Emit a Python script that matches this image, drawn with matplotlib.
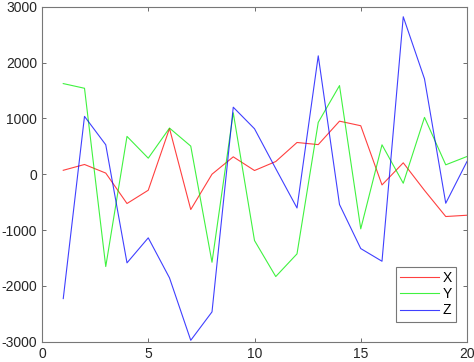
import matplotlib
matplotlib.use("Agg")
import matplotlib.pyplot as plt

plt.rcParams['font.family'] = ['Liberation Sans', 'DejaVu Sans']
plt.rcParams['axes.unicode_minus'] = False

x = list(range(1, 21))
X = [70, 174, 20, -525, -287, 820, -633, 0, 311, 66, 227, 568, 530, 950, 868, -192, 204, -290, -758, -735]
Y = [1623, 1539, -1654, 677, 287, 826, 503, -1577, 1100, -1188, -1833, -1427, 928, 1587, -979, 527, -162, 1018, 168, 317]
Z = [-2228, 1036, 527, -1588, -1140, -1857, -2975, -2466, 1200, 814, 100, -605, 2120, -543, -1332, -1559, 2820, 1707, -520, 228]
labels = ["X", "Y", "Z"]
colors = ["#ff0000", "#00ee00", "#0000ff"]

xticks = [0, 5, 10, 15, 20]
yticks = [-3000, -2000, -1000, 0, 1000, 2000, 3000]

fig = plt.figure(figsize=(4.74, 3.62), dpi=100)
ax = fig.add_axes([42/474, 20.3/362, (467-42)/474, (355.3-20.3)/362])
for s, lab, c in zip([X, Y, Z], labels, colors):
    ax.plot(x, s, color=c, lw=0.8, label=lab, alpha=0.75)

ax.set_xlim(0, 20)
ax.set_ylim(-3000, 3000)
ax.set_xticks(xticks)
ax.set_yticks(yticks)
ax.tick_params(direction="in", top=True, right=True, length=3, width=0.6,
               colors="#555555", labelcolor="#262626", labelsize=10)
for sp in ax.spines.values():
    sp.set_color("#777777")
    sp.set_linewidth(0.8)

leg = ax.legend(loc="lower right", fontsize=10, handlelength=2.8, handletextpad=0.3,
                borderpad=0.3, labelspacing=0.15, fancybox=False,
                bbox_to_anchor=(0.975, 0.06), borderaxespad=0)
leg.get_frame().set_edgecolor("#555555")
leg.get_frame().set_linewidth(0.8)

fig.savefig("out.png", dpi=100)
